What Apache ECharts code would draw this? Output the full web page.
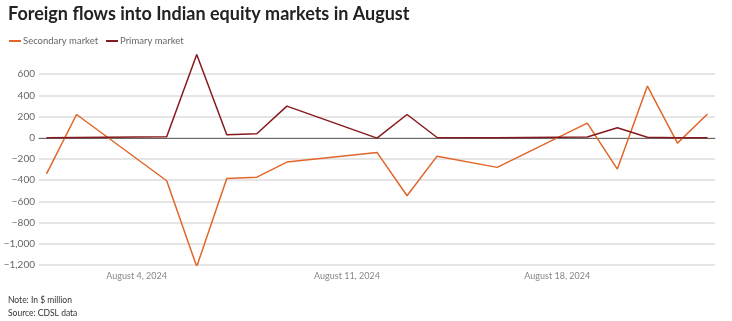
<!DOCTYPE html>
<html><head><meta charset="utf-8">
<script src="https://cdn.jsdelivr.net/npm/echarts@6/dist/echarts.min.js"></script>
<style>html,body{margin:0;padding:0;background:#fff}#c{width:732px;height:321px}</style>
</head><body><div id="c"></div>
<script>
const dates = ['2024-08-01','2024-08-02','2024-08-05','2024-08-06','2024-08-07','2024-08-08','2024-08-09','2024-08-12','2024-08-13','2024-08-14','2024-08-16','2024-08-19','2024-08-20','2024-08-21','2024-08-22','2024-08-23'];
const secondary = [-340, 220, -405, -1215, -383, -371, -229, -138, -547, -173, -279, 139, -295, 488, -50, 224];
const primary = [0, 2, 10, 786, 28, 38, 299, -3, 220, 3, 0, 8, 94, 5, 1, 0];
const xTickDates = ['2024-08-04','2024-08-11','2024-08-18'];

const ts = d => new Date(d + 'T00:00:00Z').getTime();
const months = ['January','February','March','April','May','June','July','August','September','October','November','December'];
const F = 'Lato, "Noto Sans", sans-serif';
const chart = echarts.init(document.getElementById('c'));
chart.setOption({
  animation: false,
  title: {text: 'Foreign flows into Indian equity markets in August', left: 8, top: 5, padding: 0,
    textStyle: {fontFamily: F, fontWeight: 'bold', fontSize: 18, color: '#222'}},
  legend: {left: 9, top: 36, padding: 0, itemWidth: 12, itemHeight: 2, itemGap: 8, icon: 'rect',
    textStyle: {fontFamily: F, fontSize: 9.5, color: '#666', padding: [0,0,0,-3]},
    data: ['Secondary market','Primary market']},
  graphic: [
    {type: 'text', left: 8, top: 296, style: {text: 'Note: In $ million', font: '8.5px Lato', fill: '#333'}},
    {type: 'text', left: 8, top: 309, style: {text: 'Source: CDSL data', font: '8.5px Lato', fill: '#333'}}
  ],
  grid: {left: 39, right: 17, top: 53, bottom: 56},
  xAxis: {type: 'time', min: ts('2024-08-01') - 6*3600e3, max: ts('2024-08-23') + 6*3600e3,
    interval: 86400e3,
    axisLine: {show: true, onZero: true, lineStyle: {color: '#666', width: 1}},
    axisTick: {show: false}, splitLine: {show: false},
    axisLabel: {show: false}
  },
  yAxis: {type: 'value', min: -1200, max: 800, interval: 200,
    axisLine: {show: false}, axisTick: {show: false},
    splitLine: {show: true, showMaxLine: false, lineStyle: {color: '#ddd', width: 1.5}},
    axisLabel: {showMaxLabel: false, fontFamily: F, fontSize: 10, color: '#666', margin: 4,
      formatter: v => v.toLocaleString('en-US').replace('-', '\u2212')}
  },
  series: [
    {name: 'Secondary market', type: 'line', data: dates.map((d,i)=>[ts(d), secondary[i]]),
      showSymbol: false, lineStyle: {color: '#e0662a', width: 1.5}, itemStyle: {color: '#e0662a'}, z: 3},
    {name: 'Primary market', type: 'line', data: dates.map((d,i)=>[ts(d), primary[i]]),
      showSymbol: false, lineStyle: {color: '#861a1c', width: 1.5}, itemStyle: {color: '#861a1c'}, z: 4},
    {type: 'scatter', data: xTickDates.map(d => [ts(d), -1200]), symbolSize: 0, silent: true,
      label: {show: true, position: 'bottom', distance: 7,
        formatter: p => { const dt = new Date(p.value[0]); return months[dt.getUTCMonth()] + ' ' + dt.getUTCDate() + ', ' + dt.getUTCFullYear(); },
        fontFamily: F, fontSize: 9, color: '#666'}}
  ]
});
</script></body></html>
